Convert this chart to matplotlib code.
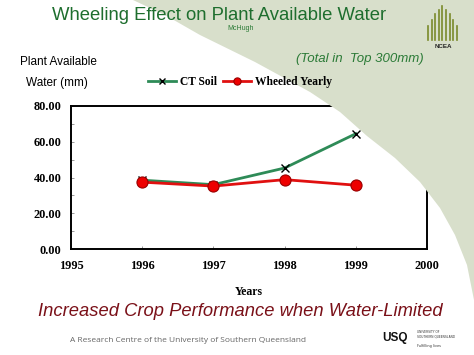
import numpy as np
import matplotlib
matplotlib.use('Agg')
import matplotlib.pyplot as plt
from matplotlib.patches import Polygon

# Data
years = [1996, 1997, 1998, 1999]
ct_soil = [38.5, 36.0, 45.3, 64.5]
wheeled_yearly = [37.4, 35.2, 38.8, 35.7]

x_ticks = [1995, 1996, 1997, 1998, 1999, 2000]
y_ticks = [0, 20, 40, 60, 80]

W, H = 474, 355
fig = plt.figure(figsize=(4.74, 3.55), dpi=100)
fig.patch.set_facecolor('white')

def px(x, y):
    # pixel coords (top-left origin) -> figure fraction
    return (x / W, 1 - y / H)

# pale green background swoosh
band = [(133, 0), (165, 15), (200, 35), (255, 62), (310, 92), (340, 112),
        (367, 136), (395, 158), (420, 182), (440, 208), (455, 235),
        (467, 265), (474, 300), (474, 0)]
fig.patches.append(Polygon([px(*p) for p in band], closed=True,
                           transform=fig.transFigure, facecolor='#d8dfcb',
                           edgecolor='none', zorder=0))

# NCEA logo (rough)
for i, h in enumerate([14, 20, 26, 30, 34, 30, 26, 20, 14]):
    xx = 428 + i * 3.6
    fig.add_artist(plt.Line2D([xx / W, xx / W], [1 - 40 / H, 1 - (40 - h) / H],
                              transform=fig.transFigure, color='#7a8a2a', lw=1.2))
fig.text(443 / W, 1 - 47 / H, 'NCEA', fontsize=4.5, fontweight='bold',
         color='#222222', ha='center', va='center', family='Liberation Sans')

# titles
fig.text(219 / W, 1 - 15 / H, 'Wheeling Effect on Plant Available Water',
         fontsize=13.3, color='#1e6e2e', ha='center', va='center',
         family='Liberation Sans')
fig.text(241 / W, 1 - 29 / H, 'McHugh', fontsize=5, color='#2a7a36',
         ha='center', va='center', family='Liberation Sans')
fig.text(58 / W, 1 - 62 / H, 'Plant Available', fontsize=8.5, color='black',
         ha='center', va='center', family='Liberation Sans')
fig.text(57 / W, 1 - 83 / H, 'Water (mm)', fontsize=8.5, color='black',
         ha='center', va='center', family='Liberation Sans')
fig.text(360 / W, 1 - 59 / H, '(Total in  Top 300mm)', fontsize=9.5,
         color='#2a7a36', style='italic', ha='center', va='center',
         family='Liberation Sans')

# main axes
ax = fig.add_axes([71 / W, 1 - 249 / H, (427 - 71) / W, (249 - 106) / H])
ax.set_facecolor('white')
ax.plot(years, ct_soil, color='#2e8b57', lw=2, marker='x', ms=6,
        mec='black', mew=1, label='CT Soil', zorder=2)
ax.plot(years, wheeled_yearly, color='#e01010', lw=2, marker='o', ms=8,
        mfc='#ee0000', mec='#990000', mew=0.8, label='Wheeled Yearly', zorder=3)

ax.set_xlim(1995, 2000)
ax.set_ylim(0, 80)
ax.set_xticks(x_ticks)
ax.set_yticks(y_ticks)
ax.set_yticks(np.arange(10, 80, 20), minor=True)
ax.set_yticklabels(['%.2f' % v for v in y_ticks])
ax.set_xticklabels([str(v) for v in x_ticks])
for lab in ax.get_xticklabels() + ax.get_yticklabels():
    lab.set_family('Liberation Serif')
    lab.set_fontweight('bold')
    lab.set_fontsize(8.8)
ax.tick_params(which='both', direction='in', length=2.5, color='#888888', width=0.6)
ax.tick_params(axis='x', pad=8)
ax.tick_params(axis='y', pad=7)
for s in ax.spines.values():
    s.set_linewidth(1.4)
    s.set_color('black')
ax.set_xlabel('Years', fontsize=8.5, fontweight='bold', family='Liberation Serif',
              labelpad=10)

leg = fig.legend(loc='center', bbox_to_anchor=(240 / W, 1 - 82 / H), ncol=2,
                 frameon=False, handlelength=2.4, columnspacing=0.6,
                 handletextpad=0.3, markerscale=0.65,
                 prop={'family': 'Liberation Serif', 'weight': 'bold', 'size': 8.3})

# bottom texts
fig.text(240 / W, 1 - 312 / H, 'Increased Crop Performance when Water-Limited',
         fontsize=13.2, color='#7a1018', style='italic', ha='center',
         va='center', family='Liberation Sans')
fig.text(188 / W, 1 - 340 / H,
         'A Research Centre of the University of Southern Queensland',
         fontsize=6, color='#666666', ha='center', va='center', family='Open Sans')
fig.text(395 / W, 1 - 338 / H, 'USQ', fontsize=8.5, fontweight='bold',
         color='#111111', ha='center', va='center', family='Liberation Sans')
fig.text(417 / W, 1 - 334 / H, 'UNIVERSITY OF\nSOUTHERN QUEENSLAND', fontsize=2.2,
         color='#333333', ha='left', va='center', linespacing=1.1)
fig.text(417 / W, 1 - 346 / H, 'Fulfilling lives', fontsize=2.5,
         color='#333333', ha='left', va='center')

fig.savefig('out.png', dpi=100)
